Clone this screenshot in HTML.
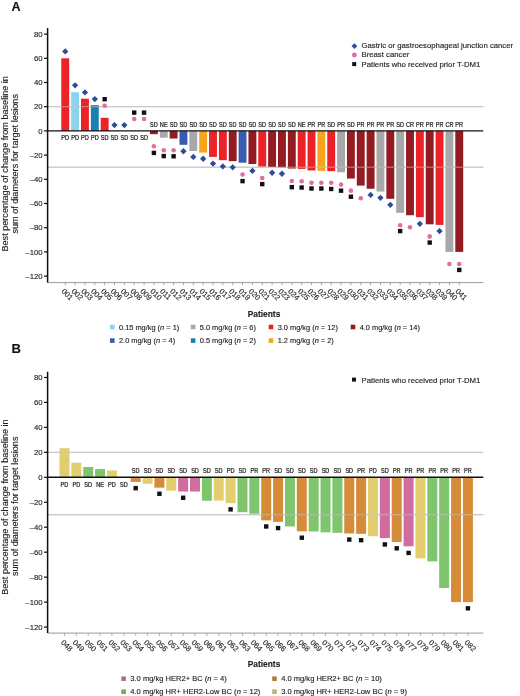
<!DOCTYPE html>
<html><head><meta charset="utf-8"><style>
html,body{margin:0;padding:0;background:#fff;width:520px;height:696px;overflow:hidden;}
svg{display:block;will-change:transform;}
text{stroke:#222;stroke-width:0.13px;}
</style></head><body>
<svg width="520" height="696" viewBox="0 0 520 696" font-family='"Liberation Sans", sans-serif'>
<rect width="520" height="696" fill="#fff"/>
<text x="11.4" y="11.1" font-size="12.6" font-weight="bold" fill="#111">A</text>
<text x="11.5" y="352.7" font-size="13.1" font-weight="bold" fill="#111">B</text>
<line x1="47.6" y1="106.70" x2="483.3" y2="106.70" stroke="#bdbdbd" stroke-width="0.9"/>
<line x1="47.6" y1="167.20" x2="483.3" y2="167.20" stroke="#bdbdbd" stroke-width="0.9"/>
<rect x="61.30" y="58.30" width="7.9" height="72.60" fill="#ec2229"/>
<rect x="71.15" y="92.18" width="7.9" height="38.72" fill="#8ed3ee"/>
<rect x="81.00" y="98.71" width="7.9" height="32.19" fill="#ec2229"/>
<rect x="90.85" y="105.13" width="7.9" height="25.77" fill="#1b7fb1"/>
<rect x="100.70" y="117.83" width="7.9" height="13.07" fill="#ec2229"/>
<rect x="149.95" y="130.90" width="7.9" height="3.27" fill="#931b21"/>
<rect x="159.80" y="130.90" width="7.9" height="6.78" fill="#a8a8a8"/>
<rect x="169.65" y="130.90" width="7.9" height="7.62" fill="#931b21"/>
<rect x="179.50" y="130.90" width="7.9" height="13.91" fill="#3a5cb0"/>
<rect x="189.35" y="130.90" width="7.9" height="20.09" fill="#a8a8a8"/>
<rect x="199.20" y="130.90" width="7.9" height="21.66" fill="#f7a51c"/>
<rect x="209.05" y="130.90" width="7.9" height="26.02" fill="#ec2229"/>
<rect x="218.90" y="130.90" width="7.9" height="29.28" fill="#ec2229"/>
<rect x="228.75" y="130.90" width="7.9" height="30.25" fill="#931b21"/>
<rect x="238.60" y="130.90" width="7.9" height="31.82" fill="#3a5cb0"/>
<rect x="248.45" y="130.90" width="7.9" height="33.15" fill="#931b21"/>
<rect x="258.30" y="130.90" width="7.9" height="35.70" fill="#ec2229"/>
<rect x="268.15" y="130.90" width="7.9" height="36.06" fill="#931b21"/>
<rect x="278.00" y="130.90" width="7.9" height="36.42" fill="#931b21"/>
<rect x="287.85" y="130.90" width="7.9" height="37.63" fill="#931b21"/>
<rect x="297.70" y="130.90" width="7.9" height="37.99" fill="#ec2229"/>
<rect x="307.55" y="130.90" width="7.9" height="39.57" fill="#ec2229"/>
<rect x="317.40" y="130.90" width="7.9" height="39.93" fill="#f7a51c"/>
<rect x="327.25" y="130.90" width="7.9" height="40.29" fill="#ec2229"/>
<rect x="337.10" y="130.90" width="7.9" height="41.38" fill="#a8a8a8"/>
<rect x="346.95" y="130.90" width="7.9" height="47.67" fill="#931b21"/>
<rect x="356.80" y="130.90" width="7.9" height="54.69" fill="#931b21"/>
<rect x="366.65" y="130.90" width="7.9" height="57.84" fill="#931b21"/>
<rect x="376.50" y="130.90" width="7.9" height="60.62" fill="#a8a8a8"/>
<rect x="386.35" y="130.90" width="7.9" height="67.88" fill="#931b21"/>
<rect x="396.20" y="130.90" width="7.9" height="81.92" fill="#a8a8a8"/>
<rect x="406.05" y="130.90" width="7.9" height="84.34" fill="#931b21"/>
<rect x="415.90" y="130.90" width="7.9" height="86.27" fill="#ec2229"/>
<rect x="425.75" y="130.90" width="7.9" height="93.41" fill="#931b21"/>
<rect x="435.60" y="130.90" width="7.9" height="94.02" fill="#ec2229"/>
<rect x="445.45" y="130.90" width="7.9" height="121.00" fill="#a8a8a8"/>
<rect x="455.30" y="130.90" width="7.9" height="121.00" fill="#931b21"/>
<line x1="47.6" y1="106.70" x2="483.3" y2="106.70" stroke="#cdbfbf" stroke-width="0.9" stroke-opacity="0.75"/>
<line x1="47.6" y1="167.20" x2="483.3" y2="167.20" stroke="#cdbfbf" stroke-width="0.9" stroke-opacity="0.75"/>
<path d="M65.25 48.25L68.40 51.40L65.25 54.55L62.10 51.40Z" fill="#304c96"/>
<text transform="translate(65.25,140.20) scale(0.86,1)" font-size="6.5" text-anchor="middle" fill="#222" style="stroke-width:0.24px">PD</text>
<path d="M75.10 82.13L78.25 85.28L75.10 88.43L71.95 85.28Z" fill="#304c96"/>
<text transform="translate(75.10,140.20) scale(0.86,1)" font-size="6.5" text-anchor="middle" fill="#222" style="stroke-width:0.24px">PD</text>
<path d="M84.95 89.27L88.10 92.42L84.95 95.57L81.80 92.42Z" fill="#304c96"/>
<text transform="translate(84.95,140.20) scale(0.86,1)" font-size="6.5" text-anchor="middle" fill="#222" style="stroke-width:0.24px">PD</text>
<path d="M94.80 95.93L97.95 99.08L94.80 102.23L91.65 99.08Z" fill="#304c96"/>
<text transform="translate(94.80,140.20) scale(0.86,1)" font-size="6.5" text-anchor="middle" fill="#222" style="stroke-width:0.24px">PD</text>
<rect x="102.45" y="97.00" width="4.4" height="4.4" fill="#111111"/>
<circle cx="104.65" cy="105.73" r="2.3" fill="#e26ca4"/>
<text transform="translate(104.65,140.20) scale(0.86,1)" font-size="6.5" text-anchor="middle" fill="#222" style="stroke-width:0.24px">SD</text>
<path d="M114.50 121.94L117.65 125.09L114.50 128.24L111.35 125.09Z" fill="#304c96"/>
<text transform="translate(114.50,140.20) scale(0.86,1)" font-size="6.5" text-anchor="middle" fill="#222" style="stroke-width:0.24px">SD</text>
<path d="M124.35 121.94L127.50 125.09L124.35 128.24L121.20 125.09Z" fill="#304c96"/>
<text transform="translate(124.35,140.20) scale(0.86,1)" font-size="6.5" text-anchor="middle" fill="#222" style="stroke-width:0.24px">SD</text>
<rect x="132.00" y="110.43" width="4.4" height="4.4" fill="#111111"/>
<circle cx="134.20" cy="119.04" r="2.3" fill="#e26ca4"/>
<text transform="translate(134.20,140.20) scale(0.86,1)" font-size="6.5" text-anchor="middle" fill="#222" style="stroke-width:0.24px">SD</text>
<rect x="141.85" y="110.43" width="4.4" height="4.4" fill="#111111"/>
<circle cx="144.05" cy="119.04" r="2.3" fill="#e26ca4"/>
<text transform="translate(144.05,140.20) scale(0.86,1)" font-size="6.5" text-anchor="middle" fill="#222" style="stroke-width:0.24px">SD</text>
<circle cx="153.90" cy="146.27" r="2.3" fill="#e26ca4"/>
<rect x="151.70" y="150.72" width="4.4" height="4.4" fill="#111111"/>
<text transform="translate(153.90,127.10) scale(0.86,1)" font-size="6.5" text-anchor="middle" fill="#222" style="stroke-width:0.24px">SD</text>
<circle cx="163.75" cy="150.26" r="2.3" fill="#e26ca4"/>
<rect x="161.55" y="153.87" width="4.4" height="4.4" fill="#111111"/>
<text transform="translate(163.75,127.10) scale(0.86,1)" font-size="6.5" text-anchor="middle" fill="#222" style="stroke-width:0.24px">NE</text>
<circle cx="173.60" cy="150.26" r="2.3" fill="#e26ca4"/>
<rect x="171.40" y="154.11" width="4.4" height="4.4" fill="#111111"/>
<text transform="translate(173.60,127.10) scale(0.86,1)" font-size="6.5" text-anchor="middle" fill="#222" style="stroke-width:0.24px">SD</text>
<path d="M183.45 148.08L186.60 151.23L183.45 154.38L180.30 151.23Z" fill="#304c96"/>
<text transform="translate(183.45,127.10) scale(0.86,1)" font-size="6.5" text-anchor="middle" fill="#222" style="stroke-width:0.24px">SD</text>
<path d="M193.30 153.77L196.45 156.92L193.30 160.07L190.15 156.92Z" fill="#304c96"/>
<text transform="translate(193.30,127.10) scale(0.86,1)" font-size="6.5" text-anchor="middle" fill="#222" style="stroke-width:0.24px">SD</text>
<path d="M203.15 155.58L206.30 158.73L203.15 161.88L200.00 158.73Z" fill="#304c96"/>
<text transform="translate(203.15,127.10) scale(0.86,1)" font-size="6.5" text-anchor="middle" fill="#222" style="stroke-width:0.24px">SD</text>
<path d="M213.00 160.42L216.15 163.57L213.00 166.72L209.85 163.57Z" fill="#304c96"/>
<text transform="translate(213.00,127.10) scale(0.86,1)" font-size="6.5" text-anchor="middle" fill="#222" style="stroke-width:0.24px">SD</text>
<path d="M222.85 163.32L226.00 166.47L222.85 169.62L219.70 166.47Z" fill="#304c96"/>
<text transform="translate(222.85,127.10) scale(0.86,1)" font-size="6.5" text-anchor="middle" fill="#222" style="stroke-width:0.24px">SD</text>
<path d="M232.70 164.17L235.85 167.32L232.70 170.47L229.55 167.32Z" fill="#304c96"/>
<text transform="translate(232.70,127.10) scale(0.86,1)" font-size="6.5" text-anchor="middle" fill="#222" style="stroke-width:0.24px">SD</text>
<circle cx="242.55" cy="174.46" r="2.3" fill="#e26ca4"/>
<rect x="240.35" y="178.92" width="4.4" height="4.4" fill="#111111"/>
<text transform="translate(242.55,127.10) scale(0.86,1)" font-size="6.5" text-anchor="middle" fill="#222" style="stroke-width:0.24px">SD</text>
<path d="M252.40 167.68L255.55 170.83L252.40 173.98L249.25 170.83Z" fill="#304c96"/>
<text transform="translate(252.40,127.10) scale(0.86,1)" font-size="6.5" text-anchor="middle" fill="#222" style="stroke-width:0.24px">SD</text>
<circle cx="262.25" cy="178.09" r="2.3" fill="#e26ca4"/>
<rect x="260.05" y="181.94" width="4.4" height="4.4" fill="#111111"/>
<text transform="translate(262.25,127.10) scale(0.86,1)" font-size="6.5" text-anchor="middle" fill="#222" style="stroke-width:0.24px">SD</text>
<path d="M272.10 169.62L275.25 172.77L272.10 175.92L268.95 172.77Z" fill="#304c96"/>
<text transform="translate(272.10,127.10) scale(0.86,1)" font-size="6.5" text-anchor="middle" fill="#222" style="stroke-width:0.24px">SD</text>
<path d="M281.95 170.58L285.10 173.73L281.95 176.88L278.80 173.73Z" fill="#304c96"/>
<text transform="translate(281.95,127.10) scale(0.86,1)" font-size="6.5" text-anchor="middle" fill="#222" style="stroke-width:0.24px">SD</text>
<circle cx="291.80" cy="180.99" r="2.3" fill="#e26ca4"/>
<rect x="289.60" y="184.97" width="4.4" height="4.4" fill="#111111"/>
<text transform="translate(291.80,127.10) scale(0.86,1)" font-size="6.5" text-anchor="middle" fill="#222" style="stroke-width:0.24px">SD</text>
<circle cx="301.65" cy="181.24" r="2.3" fill="#e26ca4"/>
<rect x="299.45" y="185.33" width="4.4" height="4.4" fill="#111111"/>
<text transform="translate(301.65,127.10) scale(0.86,1)" font-size="6.5" text-anchor="middle" fill="#222" style="stroke-width:0.24px">NE</text>
<circle cx="311.50" cy="182.69" r="2.3" fill="#e26ca4"/>
<rect x="309.30" y="186.30" width="4.4" height="4.4" fill="#111111"/>
<text transform="translate(311.50,127.10) scale(0.86,1)" font-size="6.5" text-anchor="middle" fill="#222" style="stroke-width:0.24px">PR</text>
<circle cx="321.35" cy="182.69" r="2.3" fill="#e26ca4"/>
<rect x="319.15" y="186.30" width="4.4" height="4.4" fill="#111111"/>
<text transform="translate(321.35,127.10) scale(0.86,1)" font-size="6.5" text-anchor="middle" fill="#222" style="stroke-width:0.24px">PR</text>
<circle cx="331.20" cy="182.81" r="2.3" fill="#e26ca4"/>
<rect x="329.00" y="186.78" width="4.4" height="4.4" fill="#111111"/>
<text transform="translate(331.20,127.10) scale(0.86,1)" font-size="6.5" text-anchor="middle" fill="#222" style="stroke-width:0.24px">SD</text>
<circle cx="341.05" cy="184.62" r="2.3" fill="#e26ca4"/>
<rect x="338.85" y="188.47" width="4.4" height="4.4" fill="#111111"/>
<text transform="translate(341.05,127.10) scale(0.86,1)" font-size="6.5" text-anchor="middle" fill="#222" style="stroke-width:0.24px">PR</text>
<circle cx="350.90" cy="190.67" r="2.3" fill="#e26ca4"/>
<rect x="348.70" y="194.52" width="4.4" height="4.4" fill="#111111"/>
<text transform="translate(350.90,127.10) scale(0.86,1)" font-size="6.5" text-anchor="middle" fill="#222" style="stroke-width:0.24px">SD</text>
<circle cx="360.75" cy="198.18" r="2.3" fill="#e26ca4"/>
<text transform="translate(360.75,127.10) scale(0.86,1)" font-size="6.5" text-anchor="middle" fill="#222" style="stroke-width:0.24px">PR</text>
<path d="M370.60 191.76L373.75 194.91L370.60 198.06L367.45 194.91Z" fill="#304c96"/>
<text transform="translate(370.60,127.10) scale(0.86,1)" font-size="6.5" text-anchor="middle" fill="#222" style="stroke-width:0.24px">PR</text>
<path d="M380.45 194.66L383.60 197.81L380.45 200.96L377.30 197.81Z" fill="#304c96"/>
<text transform="translate(380.45,127.10) scale(0.86,1)" font-size="6.5" text-anchor="middle" fill="#222" style="stroke-width:0.24px">PR</text>
<path d="M390.30 201.68L393.45 204.83L390.30 207.98L387.15 204.83Z" fill="#304c96"/>
<text transform="translate(390.30,127.10) scale(0.86,1)" font-size="6.5" text-anchor="middle" fill="#222" style="stroke-width:0.24px">PR</text>
<circle cx="400.15" cy="225.28" r="2.3" fill="#e26ca4"/>
<rect x="397.95" y="228.89" width="4.4" height="4.4" fill="#111111"/>
<text transform="translate(400.15,127.10) scale(0.86,1)" font-size="6.5" text-anchor="middle" fill="#222" style="stroke-width:0.24px">SD</text>
<circle cx="410.00" cy="227.22" r="2.3" fill="#e26ca4"/>
<text transform="translate(410.00,127.10) scale(0.86,1)" font-size="6.5" text-anchor="middle" fill="#222" style="stroke-width:0.24px">CR</text>
<path d="M419.85 220.68L423.00 223.83L419.85 226.98L416.70 223.83Z" fill="#304c96"/>
<text transform="translate(419.85,127.10) scale(0.86,1)" font-size="6.5" text-anchor="middle" fill="#222" style="stroke-width:0.24px">PR</text>
<circle cx="429.70" cy="236.41" r="2.3" fill="#e26ca4"/>
<rect x="427.50" y="240.38" width="4.4" height="4.4" fill="#111111"/>
<text transform="translate(429.70,127.10) scale(0.86,1)" font-size="6.5" text-anchor="middle" fill="#222" style="stroke-width:0.24px">PR</text>
<path d="M439.55 227.94L442.70 231.09L439.55 234.24L436.40 231.09Z" fill="#304c96"/>
<text transform="translate(439.55,127.10) scale(0.86,1)" font-size="6.5" text-anchor="middle" fill="#222" style="stroke-width:0.24px">PR</text>
<circle cx="449.40" cy="264.00" r="2.3" fill="#e26ca4"/>
<text transform="translate(449.40,127.10) scale(0.86,1)" font-size="6.5" text-anchor="middle" fill="#222" style="stroke-width:0.24px">CR</text>
<circle cx="459.25" cy="264.00" r="2.3" fill="#e26ca4"/>
<rect x="457.05" y="267.73" width="4.4" height="4.4" fill="#111111"/>
<text transform="translate(459.25,127.10) scale(0.86,1)" font-size="6.5" text-anchor="middle" fill="#222" style="stroke-width:0.24px">PR</text>
<line x1="47.6" y1="130.9" x2="483.3" y2="130.9" stroke="#111" stroke-width="1.4"/>
<line x1="47.6" y1="282.6" x2="483.3" y2="282.6" stroke="#9a9a9a" stroke-width="1"/>
<line x1="65.25" y1="282.6" x2="65.25" y2="285.40000000000003" stroke="#9a9a9a" stroke-width="0.8"/>
<text transform="translate(61.05,291.70) rotate(45)" font-size="7.65" fill="#222">001</text>
<line x1="75.10" y1="282.6" x2="75.10" y2="285.40000000000003" stroke="#9a9a9a" stroke-width="0.8"/>
<text transform="translate(70.90,291.70) rotate(45)" font-size="7.65" fill="#222">002</text>
<line x1="84.95" y1="282.6" x2="84.95" y2="285.40000000000003" stroke="#9a9a9a" stroke-width="0.8"/>
<text transform="translate(80.75,291.70) rotate(45)" font-size="7.65" fill="#222">003</text>
<line x1="94.80" y1="282.6" x2="94.80" y2="285.40000000000003" stroke="#9a9a9a" stroke-width="0.8"/>
<text transform="translate(90.60,291.70) rotate(45)" font-size="7.65" fill="#222">004</text>
<line x1="104.65" y1="282.6" x2="104.65" y2="285.40000000000003" stroke="#9a9a9a" stroke-width="0.8"/>
<text transform="translate(100.45,291.70) rotate(45)" font-size="7.65" fill="#222">005</text>
<line x1="114.50" y1="282.6" x2="114.50" y2="285.40000000000003" stroke="#9a9a9a" stroke-width="0.8"/>
<text transform="translate(110.30,291.70) rotate(45)" font-size="7.65" fill="#222">006</text>
<line x1="124.35" y1="282.6" x2="124.35" y2="285.40000000000003" stroke="#9a9a9a" stroke-width="0.8"/>
<text transform="translate(120.15,291.70) rotate(45)" font-size="7.65" fill="#222">007</text>
<line x1="134.20" y1="282.6" x2="134.20" y2="285.40000000000003" stroke="#9a9a9a" stroke-width="0.8"/>
<text transform="translate(130.00,291.70) rotate(45)" font-size="7.65" fill="#222">008</text>
<line x1="144.05" y1="282.6" x2="144.05" y2="285.40000000000003" stroke="#9a9a9a" stroke-width="0.8"/>
<text transform="translate(139.85,291.70) rotate(45)" font-size="7.65" fill="#222">009</text>
<line x1="153.90" y1="282.6" x2="153.90" y2="285.40000000000003" stroke="#9a9a9a" stroke-width="0.8"/>
<text transform="translate(149.70,291.70) rotate(45)" font-size="7.65" fill="#222">010</text>
<line x1="163.75" y1="282.6" x2="163.75" y2="285.40000000000003" stroke="#9a9a9a" stroke-width="0.8"/>
<text transform="translate(159.55,291.70) rotate(45)" font-size="7.65" fill="#222">011</text>
<line x1="173.60" y1="282.6" x2="173.60" y2="285.40000000000003" stroke="#9a9a9a" stroke-width="0.8"/>
<text transform="translate(169.40,291.70) rotate(45)" font-size="7.65" fill="#222">012</text>
<line x1="183.45" y1="282.6" x2="183.45" y2="285.40000000000003" stroke="#9a9a9a" stroke-width="0.8"/>
<text transform="translate(179.25,291.70) rotate(45)" font-size="7.65" fill="#222">013</text>
<line x1="193.30" y1="282.6" x2="193.30" y2="285.40000000000003" stroke="#9a9a9a" stroke-width="0.8"/>
<text transform="translate(189.10,291.70) rotate(45)" font-size="7.65" fill="#222">014</text>
<line x1="203.15" y1="282.6" x2="203.15" y2="285.40000000000003" stroke="#9a9a9a" stroke-width="0.8"/>
<text transform="translate(198.95,291.70) rotate(45)" font-size="7.65" fill="#222">015</text>
<line x1="213.00" y1="282.6" x2="213.00" y2="285.40000000000003" stroke="#9a9a9a" stroke-width="0.8"/>
<text transform="translate(208.80,291.70) rotate(45)" font-size="7.65" fill="#222">016</text>
<line x1="222.85" y1="282.6" x2="222.85" y2="285.40000000000003" stroke="#9a9a9a" stroke-width="0.8"/>
<text transform="translate(218.65,291.70) rotate(45)" font-size="7.65" fill="#222">017</text>
<line x1="232.70" y1="282.6" x2="232.70" y2="285.40000000000003" stroke="#9a9a9a" stroke-width="0.8"/>
<text transform="translate(228.50,291.70) rotate(45)" font-size="7.65" fill="#222">018</text>
<line x1="242.55" y1="282.6" x2="242.55" y2="285.40000000000003" stroke="#9a9a9a" stroke-width="0.8"/>
<text transform="translate(238.35,291.70) rotate(45)" font-size="7.65" fill="#222">019</text>
<line x1="252.40" y1="282.6" x2="252.40" y2="285.40000000000003" stroke="#9a9a9a" stroke-width="0.8"/>
<text transform="translate(248.20,291.70) rotate(45)" font-size="7.65" fill="#222">020</text>
<line x1="262.25" y1="282.6" x2="262.25" y2="285.40000000000003" stroke="#9a9a9a" stroke-width="0.8"/>
<text transform="translate(258.05,291.70) rotate(45)" font-size="7.65" fill="#222">021</text>
<line x1="272.10" y1="282.6" x2="272.10" y2="285.40000000000003" stroke="#9a9a9a" stroke-width="0.8"/>
<text transform="translate(267.90,291.70) rotate(45)" font-size="7.65" fill="#222">022</text>
<line x1="281.95" y1="282.6" x2="281.95" y2="285.40000000000003" stroke="#9a9a9a" stroke-width="0.8"/>
<text transform="translate(277.75,291.70) rotate(45)" font-size="7.65" fill="#222">023</text>
<line x1="291.80" y1="282.6" x2="291.80" y2="285.40000000000003" stroke="#9a9a9a" stroke-width="0.8"/>
<text transform="translate(287.60,291.70) rotate(45)" font-size="7.65" fill="#222">024</text>
<line x1="301.65" y1="282.6" x2="301.65" y2="285.40000000000003" stroke="#9a9a9a" stroke-width="0.8"/>
<text transform="translate(297.45,291.70) rotate(45)" font-size="7.65" fill="#222">025</text>
<line x1="311.50" y1="282.6" x2="311.50" y2="285.40000000000003" stroke="#9a9a9a" stroke-width="0.8"/>
<text transform="translate(307.30,291.70) rotate(45)" font-size="7.65" fill="#222">026</text>
<line x1="321.35" y1="282.6" x2="321.35" y2="285.40000000000003" stroke="#9a9a9a" stroke-width="0.8"/>
<text transform="translate(317.15,291.70) rotate(45)" font-size="7.65" fill="#222">027</text>
<line x1="331.20" y1="282.6" x2="331.20" y2="285.40000000000003" stroke="#9a9a9a" stroke-width="0.8"/>
<text transform="translate(327.00,291.70) rotate(45)" font-size="7.65" fill="#222">028</text>
<line x1="341.05" y1="282.6" x2="341.05" y2="285.40000000000003" stroke="#9a9a9a" stroke-width="0.8"/>
<text transform="translate(336.85,291.70) rotate(45)" font-size="7.65" fill="#222">029</text>
<line x1="350.90" y1="282.6" x2="350.90" y2="285.40000000000003" stroke="#9a9a9a" stroke-width="0.8"/>
<text transform="translate(346.70,291.70) rotate(45)" font-size="7.65" fill="#222">030</text>
<line x1="360.75" y1="282.6" x2="360.75" y2="285.40000000000003" stroke="#9a9a9a" stroke-width="0.8"/>
<text transform="translate(356.55,291.70) rotate(45)" font-size="7.65" fill="#222">031</text>
<line x1="370.60" y1="282.6" x2="370.60" y2="285.40000000000003" stroke="#9a9a9a" stroke-width="0.8"/>
<text transform="translate(366.40,291.70) rotate(45)" font-size="7.65" fill="#222">032</text>
<line x1="380.45" y1="282.6" x2="380.45" y2="285.40000000000003" stroke="#9a9a9a" stroke-width="0.8"/>
<text transform="translate(376.25,291.70) rotate(45)" font-size="7.65" fill="#222">033</text>
<line x1="390.30" y1="282.6" x2="390.30" y2="285.40000000000003" stroke="#9a9a9a" stroke-width="0.8"/>
<text transform="translate(386.10,291.70) rotate(45)" font-size="7.65" fill="#222">034</text>
<line x1="400.15" y1="282.6" x2="400.15" y2="285.40000000000003" stroke="#9a9a9a" stroke-width="0.8"/>
<text transform="translate(395.95,291.70) rotate(45)" font-size="7.65" fill="#222">035</text>
<line x1="410.00" y1="282.6" x2="410.00" y2="285.40000000000003" stroke="#9a9a9a" stroke-width="0.8"/>
<text transform="translate(405.80,291.70) rotate(45)" font-size="7.65" fill="#222">036</text>
<line x1="419.85" y1="282.6" x2="419.85" y2="285.40000000000003" stroke="#9a9a9a" stroke-width="0.8"/>
<text transform="translate(415.65,291.70) rotate(45)" font-size="7.65" fill="#222">037</text>
<line x1="429.70" y1="282.6" x2="429.70" y2="285.40000000000003" stroke="#9a9a9a" stroke-width="0.8"/>
<text transform="translate(425.50,291.70) rotate(45)" font-size="7.65" fill="#222">038</text>
<line x1="439.55" y1="282.6" x2="439.55" y2="285.40000000000003" stroke="#9a9a9a" stroke-width="0.8"/>
<text transform="translate(435.35,291.70) rotate(45)" font-size="7.65" fill="#222">039</text>
<line x1="449.40" y1="282.6" x2="449.40" y2="285.40000000000003" stroke="#9a9a9a" stroke-width="0.8"/>
<text transform="translate(445.20,291.70) rotate(45)" font-size="7.65" fill="#222">040</text>
<line x1="459.25" y1="282.6" x2="459.25" y2="285.40000000000003" stroke="#9a9a9a" stroke-width="0.8"/>
<text transform="translate(455.05,291.70) rotate(45)" font-size="7.65" fill="#222">041</text>
<line x1="47.6" y1="28" x2="47.6" y2="282.6" stroke="#111" stroke-width="1.5"/>
<line x1="44.0" y1="34.10" x2="47.6" y2="34.10" stroke="#111" stroke-width="1.2"/>
<text x="42.6" y="36.80" font-size="7.75" text-anchor="end" fill="#222">80</text>
<line x1="44.0" y1="58.30" x2="47.6" y2="58.30" stroke="#111" stroke-width="1.2"/>
<text x="42.6" y="61.00" font-size="7.75" text-anchor="end" fill="#222">60</text>
<line x1="44.0" y1="82.50" x2="47.6" y2="82.50" stroke="#111" stroke-width="1.2"/>
<text x="42.6" y="85.20" font-size="7.75" text-anchor="end" fill="#222">40</text>
<line x1="44.0" y1="106.70" x2="47.6" y2="106.70" stroke="#111" stroke-width="1.2"/>
<text x="42.6" y="109.40" font-size="7.75" text-anchor="end" fill="#222">20</text>
<line x1="44.0" y1="130.90" x2="47.6" y2="130.90" stroke="#111" stroke-width="1.2"/>
<text x="42.6" y="133.60" font-size="7.75" text-anchor="end" fill="#222">0</text>
<line x1="44.0" y1="155.10" x2="47.6" y2="155.10" stroke="#111" stroke-width="1.2"/>
<text x="42.6" y="157.80" font-size="7.75" text-anchor="end" fill="#222">–20</text>
<line x1="44.0" y1="179.30" x2="47.6" y2="179.30" stroke="#111" stroke-width="1.2"/>
<text x="42.6" y="182.00" font-size="7.75" text-anchor="end" fill="#222">–40</text>
<line x1="44.0" y1="203.50" x2="47.6" y2="203.50" stroke="#111" stroke-width="1.2"/>
<text x="42.6" y="206.20" font-size="7.75" text-anchor="end" fill="#222">–60</text>
<line x1="44.0" y1="227.70" x2="47.6" y2="227.70" stroke="#111" stroke-width="1.2"/>
<text x="42.6" y="230.40" font-size="7.75" text-anchor="end" fill="#222">–80</text>
<line x1="44.0" y1="251.90" x2="47.6" y2="251.90" stroke="#111" stroke-width="1.2"/>
<text x="42.6" y="254.60" font-size="7.75" text-anchor="end" fill="#222">–100</text>
<line x1="44.0" y1="276.10" x2="47.6" y2="276.10" stroke="#111" stroke-width="1.2"/>
<text x="42.6" y="278.80" font-size="7.75" text-anchor="end" fill="#222">–120</text>
<text transform="translate(7.9,163.8) rotate(-90)" font-size="9.1" text-anchor="middle" fill="#222">Best percentage of change from baseline in</text>
<text transform="translate(18.4,163.8) rotate(-90)" font-size="9.1" text-anchor="middle" fill="#222">sum of diameters for target lesions</text>
<line x1="47.6" y1="452.34" x2="483.3" y2="452.34" stroke="#bdbdbd" stroke-width="0.9"/>
<line x1="47.6" y1="514.74" x2="483.3" y2="514.74" stroke="#bdbdbd" stroke-width="0.9"/>
<rect x="59.50" y="448.22" width="10" height="29.08" fill="#e2ce6c"/>
<rect x="71.36" y="462.70" width="10" height="14.60" fill="#e2ce6c"/>
<rect x="83.23" y="466.94" width="10" height="10.36" fill="#7ec56d"/>
<rect x="95.09" y="469.06" width="10" height="8.24" fill="#7ec56d"/>
<rect x="106.96" y="470.44" width="10" height="6.86" fill="#e2ce6c"/>
<rect x="130.69" y="477.30" width="10" height="4.62" fill="#d68b38"/>
<rect x="142.56" y="477.30" width="10" height="6.49" fill="#e2ce6c"/>
<rect x="154.42" y="477.30" width="10" height="10.36" fill="#d68b38"/>
<rect x="166.28" y="477.30" width="10" height="13.35" fill="#e2ce6c"/>
<rect x="178.15" y="477.30" width="10" height="14.23" fill="#d06c9e"/>
<rect x="190.02" y="477.30" width="10" height="14.23" fill="#d06c9e"/>
<rect x="201.88" y="477.30" width="10" height="23.46" fill="#7ec56d"/>
<rect x="213.75" y="477.30" width="10" height="23.34" fill="#e2ce6c"/>
<rect x="225.61" y="477.30" width="10" height="25.83" fill="#e2ce6c"/>
<rect x="237.47" y="477.30" width="10" height="34.94" fill="#7ec56d"/>
<rect x="249.34" y="477.30" width="10" height="36.44" fill="#7ec56d"/>
<rect x="261.21" y="477.30" width="10" height="43.06" fill="#d68b38"/>
<rect x="273.07" y="477.30" width="10" height="44.55" fill="#d68b38"/>
<rect x="284.94" y="477.30" width="10" height="49.17" fill="#7ec56d"/>
<rect x="296.80" y="477.30" width="10" height="54.04" fill="#d68b38"/>
<rect x="308.66" y="477.30" width="10" height="54.16" fill="#7ec56d"/>
<rect x="320.53" y="477.30" width="10" height="55.04" fill="#7ec56d"/>
<rect x="332.39" y="477.30" width="10" height="55.54" fill="#7ec56d"/>
<rect x="344.26" y="477.30" width="10" height="56.16" fill="#d68b38"/>
<rect x="356.12" y="477.30" width="10" height="56.53" fill="#d68b38"/>
<rect x="367.99" y="477.30" width="10" height="58.91" fill="#e2ce6c"/>
<rect x="379.86" y="477.30" width="10" height="60.78" fill="#d06c9e"/>
<rect x="391.72" y="477.30" width="10" height="64.65" fill="#d68b38"/>
<rect x="403.58" y="477.30" width="10" height="69.01" fill="#d06c9e"/>
<rect x="415.45" y="477.30" width="10" height="81.12" fill="#e2ce6c"/>
<rect x="427.31" y="477.30" width="10" height="84.12" fill="#7ec56d"/>
<rect x="439.18" y="477.30" width="10" height="110.70" fill="#7ec56d"/>
<rect x="451.05" y="477.30" width="10" height="124.80" fill="#d68b38"/>
<rect x="462.91" y="477.30" width="10" height="124.80" fill="#d68b38"/>
<line x1="47.6" y1="452.34" x2="483.3" y2="452.34" stroke="#cdbfbf" stroke-width="0.9" stroke-opacity="0.75"/>
<line x1="47.6" y1="514.74" x2="483.3" y2="514.74" stroke="#cdbfbf" stroke-width="0.9" stroke-opacity="0.75"/>
<text transform="translate(64.50,486.80) scale(0.86,1)" font-size="6.5" text-anchor="middle" fill="#222" style="stroke-width:0.24px">PD</text>
<text transform="translate(76.36,486.80) scale(0.86,1)" font-size="6.5" text-anchor="middle" fill="#222" style="stroke-width:0.24px">PD</text>
<text transform="translate(88.23,486.80) scale(0.86,1)" font-size="6.5" text-anchor="middle" fill="#222" style="stroke-width:0.24px">SD</text>
<text transform="translate(100.09,486.80) scale(0.86,1)" font-size="6.5" text-anchor="middle" fill="#222" style="stroke-width:0.24px">NE</text>
<text transform="translate(111.96,486.80) scale(0.86,1)" font-size="6.5" text-anchor="middle" fill="#222" style="stroke-width:0.24px">PD</text>
<text transform="translate(123.83,486.80) scale(0.86,1)" font-size="6.5" text-anchor="middle" fill="#222" style="stroke-width:0.24px">SD</text>
<rect x="133.49" y="485.96" width="4.4" height="4.4" fill="#111111"/>
<text transform="translate(135.69,472.70) scale(0.86,1)" font-size="6.5" text-anchor="middle" fill="#222" style="stroke-width:0.24px">SD</text>
<text transform="translate(147.56,472.70) scale(0.86,1)" font-size="6.5" text-anchor="middle" fill="#222" style="stroke-width:0.24px">SD</text>
<rect x="157.22" y="491.57" width="4.4" height="4.4" fill="#111111"/>
<text transform="translate(159.42,472.70) scale(0.86,1)" font-size="6.5" text-anchor="middle" fill="#222" style="stroke-width:0.24px">SD</text>
<text transform="translate(171.28,472.70) scale(0.86,1)" font-size="6.5" text-anchor="middle" fill="#222" style="stroke-width:0.24px">SD</text>
<rect x="180.95" y="495.57" width="4.4" height="4.4" fill="#111111"/>
<text transform="translate(183.15,472.70) scale(0.86,1)" font-size="6.5" text-anchor="middle" fill="#222" style="stroke-width:0.24px">SD</text>
<text transform="translate(195.02,472.70) scale(0.86,1)" font-size="6.5" text-anchor="middle" fill="#222" style="stroke-width:0.24px">SD</text>
<text transform="translate(206.88,472.70) scale(0.86,1)" font-size="6.5" text-anchor="middle" fill="#222" style="stroke-width:0.24px">SD</text>
<text transform="translate(218.75,472.70) scale(0.86,1)" font-size="6.5" text-anchor="middle" fill="#222" style="stroke-width:0.24px">SD</text>
<rect x="228.41" y="507.17" width="4.4" height="4.4" fill="#111111"/>
<text transform="translate(230.61,472.70) scale(0.86,1)" font-size="6.5" text-anchor="middle" fill="#222" style="stroke-width:0.24px">PD</text>
<text transform="translate(242.47,472.70) scale(0.86,1)" font-size="6.5" text-anchor="middle" fill="#222" style="stroke-width:0.24px">SD</text>
<text transform="translate(254.34,472.70) scale(0.86,1)" font-size="6.5" text-anchor="middle" fill="#222" style="stroke-width:0.24px">PR</text>
<rect x="264.01" y="524.27" width="4.4" height="4.4" fill="#111111"/>
<text transform="translate(266.21,472.70) scale(0.86,1)" font-size="6.5" text-anchor="middle" fill="#222" style="stroke-width:0.24px">PR</text>
<rect x="275.87" y="525.89" width="4.4" height="4.4" fill="#111111"/>
<text transform="translate(278.07,472.70) scale(0.86,1)" font-size="6.5" text-anchor="middle" fill="#222" style="stroke-width:0.24px">SD</text>
<text transform="translate(289.94,472.70) scale(0.86,1)" font-size="6.5" text-anchor="middle" fill="#222" style="stroke-width:0.24px">SD</text>
<rect x="299.60" y="535.50" width="4.4" height="4.4" fill="#111111"/>
<text transform="translate(301.80,472.70) scale(0.86,1)" font-size="6.5" text-anchor="middle" fill="#222" style="stroke-width:0.24px">SD</text>
<text transform="translate(313.66,472.70) scale(0.86,1)" font-size="6.5" text-anchor="middle" fill="#222" style="stroke-width:0.24px">SD</text>
<text transform="translate(325.53,472.70) scale(0.86,1)" font-size="6.5" text-anchor="middle" fill="#222" style="stroke-width:0.24px">SD</text>
<text transform="translate(337.39,472.70) scale(0.86,1)" font-size="6.5" text-anchor="middle" fill="#222" style="stroke-width:0.24px">SD</text>
<rect x="347.06" y="537.38" width="4.4" height="4.4" fill="#111111"/>
<text transform="translate(349.26,472.70) scale(0.86,1)" font-size="6.5" text-anchor="middle" fill="#222" style="stroke-width:0.24px">SD</text>
<rect x="358.93" y="538.00" width="4.4" height="4.4" fill="#111111"/>
<text transform="translate(361.12,472.70) scale(0.86,1)" font-size="6.5" text-anchor="middle" fill="#222" style="stroke-width:0.24px">PR</text>
<text transform="translate(372.99,472.70) scale(0.86,1)" font-size="6.5" text-anchor="middle" fill="#222" style="stroke-width:0.24px">PD</text>
<rect x="382.66" y="542.24" width="4.4" height="4.4" fill="#111111"/>
<text transform="translate(384.86,472.70) scale(0.86,1)" font-size="6.5" text-anchor="middle" fill="#222" style="stroke-width:0.24px">SD</text>
<rect x="394.52" y="546.11" width="4.4" height="4.4" fill="#111111"/>
<text transform="translate(396.72,472.70) scale(0.86,1)" font-size="6.5" text-anchor="middle" fill="#222" style="stroke-width:0.24px">PR</text>
<rect x="406.38" y="550.73" width="4.4" height="4.4" fill="#111111"/>
<text transform="translate(408.58,472.70) scale(0.86,1)" font-size="6.5" text-anchor="middle" fill="#222" style="stroke-width:0.24px">PR</text>
<text transform="translate(420.45,472.70) scale(0.86,1)" font-size="6.5" text-anchor="middle" fill="#222" style="stroke-width:0.24px">PR</text>
<text transform="translate(432.31,472.70) scale(0.86,1)" font-size="6.5" text-anchor="middle" fill="#222" style="stroke-width:0.24px">PR</text>
<text transform="translate(444.18,472.70) scale(0.86,1)" font-size="6.5" text-anchor="middle" fill="#222" style="stroke-width:0.24px">PR</text>
<text transform="translate(456.05,472.70) scale(0.86,1)" font-size="6.5" text-anchor="middle" fill="#222" style="stroke-width:0.24px">PR</text>
<rect x="465.71" y="606.14" width="4.4" height="4.4" fill="#111111"/>
<text transform="translate(467.91,472.70) scale(0.86,1)" font-size="6.5" text-anchor="middle" fill="#222" style="stroke-width:0.24px">PR</text>
<line x1="47.6" y1="477.3" x2="483.3" y2="477.3" stroke="#111" stroke-width="1.4"/>
<line x1="47.6" y1="633.1" x2="483.3" y2="633.1" stroke="#9a9a9a" stroke-width="1"/>
<line x1="64.50" y1="633.1" x2="64.50" y2="635.9" stroke="#9a9a9a" stroke-width="0.8"/>
<text transform="translate(60.50,642.90) rotate(45)" font-size="7.65" fill="#222">048</text>
<line x1="76.36" y1="633.1" x2="76.36" y2="635.9" stroke="#9a9a9a" stroke-width="0.8"/>
<text transform="translate(72.36,642.90) rotate(45)" font-size="7.65" fill="#222">049</text>
<line x1="88.23" y1="633.1" x2="88.23" y2="635.9" stroke="#9a9a9a" stroke-width="0.8"/>
<text transform="translate(84.23,642.90) rotate(45)" font-size="7.65" fill="#222">050</text>
<line x1="100.09" y1="633.1" x2="100.09" y2="635.9" stroke="#9a9a9a" stroke-width="0.8"/>
<text transform="translate(96.09,642.90) rotate(45)" font-size="7.65" fill="#222">051</text>
<line x1="111.96" y1="633.1" x2="111.96" y2="635.9" stroke="#9a9a9a" stroke-width="0.8"/>
<text transform="translate(107.96,642.90) rotate(45)" font-size="7.65" fill="#222">052</text>
<line x1="123.83" y1="633.1" x2="123.83" y2="635.9" stroke="#9a9a9a" stroke-width="0.8"/>
<text transform="translate(119.83,642.90) rotate(45)" font-size="7.65" fill="#222">053</text>
<line x1="135.69" y1="633.1" x2="135.69" y2="635.9" stroke="#9a9a9a" stroke-width="0.8"/>
<text transform="translate(131.69,642.90) rotate(45)" font-size="7.65" fill="#222">054</text>
<line x1="147.56" y1="633.1" x2="147.56" y2="635.9" stroke="#9a9a9a" stroke-width="0.8"/>
<text transform="translate(143.56,642.90) rotate(45)" font-size="7.65" fill="#222">055</text>
<line x1="159.42" y1="633.1" x2="159.42" y2="635.9" stroke="#9a9a9a" stroke-width="0.8"/>
<text transform="translate(155.42,642.90) rotate(45)" font-size="7.65" fill="#222">056</text>
<line x1="171.28" y1="633.1" x2="171.28" y2="635.9" stroke="#9a9a9a" stroke-width="0.8"/>
<text transform="translate(167.28,642.90) rotate(45)" font-size="7.65" fill="#222">057</text>
<line x1="183.15" y1="633.1" x2="183.15" y2="635.9" stroke="#9a9a9a" stroke-width="0.8"/>
<text transform="translate(179.15,642.90) rotate(45)" font-size="7.65" fill="#222">058</text>
<line x1="195.02" y1="633.1" x2="195.02" y2="635.9" stroke="#9a9a9a" stroke-width="0.8"/>
<text transform="translate(191.02,642.90) rotate(45)" font-size="7.65" fill="#222">059</text>
<line x1="206.88" y1="633.1" x2="206.88" y2="635.9" stroke="#9a9a9a" stroke-width="0.8"/>
<text transform="translate(202.88,642.90) rotate(45)" font-size="7.65" fill="#222">060</text>
<line x1="218.75" y1="633.1" x2="218.75" y2="635.9" stroke="#9a9a9a" stroke-width="0.8"/>
<text transform="translate(214.75,642.90) rotate(45)" font-size="7.65" fill="#222">061</text>
<line x1="230.61" y1="633.1" x2="230.61" y2="635.9" stroke="#9a9a9a" stroke-width="0.8"/>
<text transform="translate(226.61,642.90) rotate(45)" font-size="7.65" fill="#222">062</text>
<line x1="242.47" y1="633.1" x2="242.47" y2="635.9" stroke="#9a9a9a" stroke-width="0.8"/>
<text transform="translate(238.47,642.90) rotate(45)" font-size="7.65" fill="#222">063</text>
<line x1="254.34" y1="633.1" x2="254.34" y2="635.9" stroke="#9a9a9a" stroke-width="0.8"/>
<text transform="translate(250.34,642.90) rotate(45)" font-size="7.65" fill="#222">064</text>
<line x1="266.21" y1="633.1" x2="266.21" y2="635.9" stroke="#9a9a9a" stroke-width="0.8"/>
<text transform="translate(262.21,642.90) rotate(45)" font-size="7.65" fill="#222">065</text>
<line x1="278.07" y1="633.1" x2="278.07" y2="635.9" stroke="#9a9a9a" stroke-width="0.8"/>
<text transform="translate(274.07,642.90) rotate(45)" font-size="7.65" fill="#222">066</text>
<line x1="289.94" y1="633.1" x2="289.94" y2="635.9" stroke="#9a9a9a" stroke-width="0.8"/>
<text transform="translate(285.94,642.90) rotate(45)" font-size="7.65" fill="#222">067</text>
<line x1="301.80" y1="633.1" x2="301.80" y2="635.9" stroke="#9a9a9a" stroke-width="0.8"/>
<text transform="translate(297.80,642.90) rotate(45)" font-size="7.65" fill="#222">068</text>
<line x1="313.66" y1="633.1" x2="313.66" y2="635.9" stroke="#9a9a9a" stroke-width="0.8"/>
<text transform="translate(309.66,642.90) rotate(45)" font-size="7.65" fill="#222">069</text>
<line x1="325.53" y1="633.1" x2="325.53" y2="635.9" stroke="#9a9a9a" stroke-width="0.8"/>
<text transform="translate(321.53,642.90) rotate(45)" font-size="7.65" fill="#222">070</text>
<line x1="337.39" y1="633.1" x2="337.39" y2="635.9" stroke="#9a9a9a" stroke-width="0.8"/>
<text transform="translate(333.39,642.90) rotate(45)" font-size="7.65" fill="#222">071</text>
<line x1="349.26" y1="633.1" x2="349.26" y2="635.9" stroke="#9a9a9a" stroke-width="0.8"/>
<text transform="translate(345.26,642.90) rotate(45)" font-size="7.65" fill="#222">072</text>
<line x1="361.12" y1="633.1" x2="361.12" y2="635.9" stroke="#9a9a9a" stroke-width="0.8"/>
<text transform="translate(357.12,642.90) rotate(45)" font-size="7.65" fill="#222">073</text>
<line x1="372.99" y1="633.1" x2="372.99" y2="635.9" stroke="#9a9a9a" stroke-width="0.8"/>
<text transform="translate(368.99,642.90) rotate(45)" font-size="7.65" fill="#222">074</text>
<line x1="384.86" y1="633.1" x2="384.86" y2="635.9" stroke="#9a9a9a" stroke-width="0.8"/>
<text transform="translate(380.86,642.90) rotate(45)" font-size="7.65" fill="#222">075</text>
<line x1="396.72" y1="633.1" x2="396.72" y2="635.9" stroke="#9a9a9a" stroke-width="0.8"/>
<text transform="translate(392.72,642.90) rotate(45)" font-size="7.65" fill="#222">076</text>
<line x1="408.58" y1="633.1" x2="408.58" y2="635.9" stroke="#9a9a9a" stroke-width="0.8"/>
<text transform="translate(404.58,642.90) rotate(45)" font-size="7.65" fill="#222">077</text>
<line x1="420.45" y1="633.1" x2="420.45" y2="635.9" stroke="#9a9a9a" stroke-width="0.8"/>
<text transform="translate(416.45,642.90) rotate(45)" font-size="7.65" fill="#222">078</text>
<line x1="432.31" y1="633.1" x2="432.31" y2="635.9" stroke="#9a9a9a" stroke-width="0.8"/>
<text transform="translate(428.31,642.90) rotate(45)" font-size="7.65" fill="#222">079</text>
<line x1="444.18" y1="633.1" x2="444.18" y2="635.9" stroke="#9a9a9a" stroke-width="0.8"/>
<text transform="translate(440.18,642.90) rotate(45)" font-size="7.65" fill="#222">080</text>
<line x1="456.05" y1="633.1" x2="456.05" y2="635.9" stroke="#9a9a9a" stroke-width="0.8"/>
<text transform="translate(452.05,642.90) rotate(45)" font-size="7.65" fill="#222">081</text>
<line x1="467.91" y1="633.1" x2="467.91" y2="635.9" stroke="#9a9a9a" stroke-width="0.8"/>
<text transform="translate(463.91,642.90) rotate(45)" font-size="7.65" fill="#222">082</text>
<line x1="47.6" y1="371.7" x2="47.6" y2="633.1" stroke="#111" stroke-width="1.5"/>
<line x1="44.0" y1="377.46" x2="47.6" y2="377.46" stroke="#111" stroke-width="1.2"/>
<text x="42.6" y="380.16" font-size="7.75" text-anchor="end" fill="#222">80</text>
<line x1="44.0" y1="402.42" x2="47.6" y2="402.42" stroke="#111" stroke-width="1.2"/>
<text x="42.6" y="405.12" font-size="7.75" text-anchor="end" fill="#222">60</text>
<line x1="44.0" y1="427.38" x2="47.6" y2="427.38" stroke="#111" stroke-width="1.2"/>
<text x="42.6" y="430.08" font-size="7.75" text-anchor="end" fill="#222">40</text>
<line x1="44.0" y1="452.34" x2="47.6" y2="452.34" stroke="#111" stroke-width="1.2"/>
<text x="42.6" y="455.04" font-size="7.75" text-anchor="end" fill="#222">20</text>
<line x1="44.0" y1="477.30" x2="47.6" y2="477.30" stroke="#111" stroke-width="1.2"/>
<text x="42.6" y="480.00" font-size="7.75" text-anchor="end" fill="#222">0</text>
<line x1="44.0" y1="502.26" x2="47.6" y2="502.26" stroke="#111" stroke-width="1.2"/>
<text x="42.6" y="504.96" font-size="7.75" text-anchor="end" fill="#222">–20</text>
<line x1="44.0" y1="527.22" x2="47.6" y2="527.22" stroke="#111" stroke-width="1.2"/>
<text x="42.6" y="529.92" font-size="7.75" text-anchor="end" fill="#222">–40</text>
<line x1="44.0" y1="552.18" x2="47.6" y2="552.18" stroke="#111" stroke-width="1.2"/>
<text x="42.6" y="554.88" font-size="7.75" text-anchor="end" fill="#222">–60</text>
<line x1="44.0" y1="577.14" x2="47.6" y2="577.14" stroke="#111" stroke-width="1.2"/>
<text x="42.6" y="579.84" font-size="7.75" text-anchor="end" fill="#222">–80</text>
<line x1="44.0" y1="602.10" x2="47.6" y2="602.10" stroke="#111" stroke-width="1.2"/>
<text x="42.6" y="604.80" font-size="7.75" text-anchor="end" fill="#222">–100</text>
<line x1="44.0" y1="627.06" x2="47.6" y2="627.06" stroke="#111" stroke-width="1.2"/>
<text x="42.6" y="629.76" font-size="7.75" text-anchor="end" fill="#222">–120</text>
<text transform="translate(7.9,507.1) rotate(-90)" font-size="9.1" text-anchor="middle" fill="#222">Best percentage of change from baseline in</text>
<text transform="translate(18.4,506.3) rotate(-90)" font-size="9.1" text-anchor="middle" fill="#222">sum of diameters for target lesions</text>
<path d="M354.4 43.2L357.29999999999995 46.1L354.4 49L351.5 46.1Z" fill="#304c96"/>
<circle cx="354.4" cy="55" r="2.4" fill="#e26ca4"/>
<rect x="352.2" y="62.1" width="4" height="4" fill="#111111"/>
<text x="361.5" y="48.3" font-size="7.75" fill="#222">Gastric or gastroesophageal junction cancer</text>
<text x="361.5" y="57.4" font-size="7.75" fill="#222">Breast cancer</text>
<text x="361.5" y="67.0" font-size="7.75" fill="#222">Patients who received prior T-DM1</text>
<rect x="352.0" y="377.6" width="4" height="4" fill="#111111"/>
<text x="361.6" y="382.5" font-size="7.75" fill="#222">Patients who received prior T-DM1</text>
<text x="264" y="316.5" font-size="8.4" font-weight="bold" text-anchor="middle" fill="#222">Patients</text>
<text x="264" y="667.3" font-size="8.4" font-weight="bold" text-anchor="middle" fill="#222">Patients</text>
<rect x="110.00" y="324.70" width="4.6" height="4.6" fill="#8ed3ee"/>
<text x="119.00" y="329.60" font-size="7.4" fill="#222">0.15 mg/kg (<tspan font-style="italic">n</tspan> = 1)</text>
<rect x="190.80" y="324.70" width="4.6" height="4.6" fill="#a8a8a8"/>
<text x="199.80" y="329.60" font-size="7.4" fill="#222">5.0 mg/kg (<tspan font-style="italic">n</tspan> = 6)</text>
<rect x="268.70" y="324.70" width="4.6" height="4.6" fill="#ec2229"/>
<text x="277.70" y="329.60" font-size="7.4" fill="#222">3.0 mg/kg (<tspan font-style="italic">n</tspan> = 12)</text>
<rect x="350.70" y="324.70" width="4.6" height="4.6" fill="#931b21"/>
<text x="359.70" y="329.60" font-size="7.4" fill="#222">4.0 mg/kg (<tspan font-style="italic">n</tspan> = 14)</text>
<rect x="110.00" y="338.30" width="4.6" height="4.6" fill="#3a5cb0"/>
<text x="119.00" y="343.20" font-size="7.4" fill="#222">2.0 mg/kg (<tspan font-style="italic">n</tspan> = 4)</text>
<rect x="190.80" y="338.30" width="4.6" height="4.6" fill="#1b7fb1"/>
<text x="199.80" y="343.20" font-size="7.4" fill="#222">0.5 mg/kg (<tspan font-style="italic">n</tspan> = 2)</text>
<rect x="268.70" y="338.30" width="4.6" height="4.6" fill="#f7a51c"/>
<text x="277.70" y="343.20" font-size="7.4" fill="#222">1.2 mg/kg (<tspan font-style="italic">n</tspan> = 2)</text>
<rect x="121.30" y="676.40" width="4.6" height="4.6" fill="#b26a8e"/>
<text x="130.30" y="681.30" font-size="7.55" fill="#222">3.0 mg/kg HER2+ BC (<tspan font-style="italic">n</tspan> = 4)</text>
<rect x="272.20" y="676.40" width="4.6" height="4.6" fill="#b27c40"/>
<text x="281.20" y="681.30" font-size="7.55" fill="#222">4.0 mg/kg HER2+ BC (<tspan font-style="italic">n</tspan> = 10)</text>
<rect x="121.30" y="689.40" width="4.6" height="4.6" fill="#74a768"/>
<text x="130.30" y="694.30" font-size="7.55" fill="#222">4.0 mg/kg HR+ HER2-Low BC (<tspan font-style="italic">n</tspan> = 12)</text>
<rect x="272.20" y="689.40" width="4.6" height="4.6" fill="#c3b46e"/>
<text x="281.20" y="694.30" font-size="7.55" fill="#222">3.0 mg/kg HR+ HER2-Low BC (<tspan font-style="italic">n</tspan> = 9)</text>
</svg>
</body></html>
